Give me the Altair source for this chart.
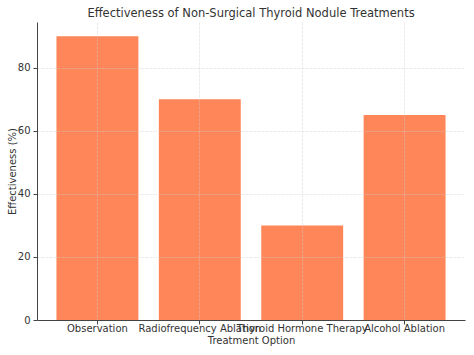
import altair as alt
import pandas as pd

treatments = ["Observation", "Radiofrequency Ablation", "Thyroid Hormone Therapy", "Alcohol Ablation"]
effectiveness = [90, 70, 30, 65]

df = pd.DataFrame({"Treatment Option": treatments, "Effectiveness (%)": effectiveness})

FONT = "DejaVu Sans"

chart = alt.Chart(df).mark_bar(color="#FF7F50", opacity=0.95).encode(
    x=alt.X(
        "Treatment Option:N",
        sort=treatments,
        scale=alt.Scale(paddingInner=0.2, paddingOuter=0.19),
        axis=alt.Axis(
            title="Treatment Option",
            labelAngle=0,
            labelOverlap=False,
            labelLimit=0,
            labelFontSize=10,
            labelFont=FONT,
            labelColor="#333333",
            labelPadding=-1,
            titleFont=FONT,
            titleFontSize=10,
            titleFontWeight="normal",
            titleColor="#333333",
            titlePadding=2,
            tickSize=4,
            tickColor="#444444",
            domainColor="#444444",
            domainWidth=1,
            grid=True,
            gridColor="#cccccc",
            gridOpacity=0.5,
            gridWidth=0.8,
            gridDash=[3, 1],
            zindex=1,
        ),
    ),
    y=alt.Y(
        "Effectiveness (%):Q",
        scale=alt.Scale(domain=[0, 94.5], nice=False),
        axis=alt.Axis(
            title="Effectiveness (%)",
            values=[0, 20, 40, 60, 80],
            labelFontSize=10,
            labelFont=FONT,
            labelColor="#333333",
            labelPadding=3,
            titleFont=FONT,
            titleFontSize=10,
            titleFontWeight="normal",
            titleColor="#333333",
            titlePadding=0,
            tickSize=4,
            tickColor="#444444",
            domainColor="#444444",
            domainWidth=1,
            grid=True,
            gridColor="#cccccc",
            gridOpacity=0.5,
            gridWidth=0.8,
            gridDash=[3, 1],
            zindex=1,
        ),
    ),
).properties(
    width=428,
    height=298,
    title=alt.TitleParams(
        "Effectiveness of Non-Surgical Thyroid Nodule Treatments",
        font=FONT,
        fontSize=11.5,
        fontWeight="normal",
        color="#333333",
        offset=3,
    ),
    autosize=alt.AutoSizeParams(type="none"),
    padding={"left": 37, "top": 22, "right": 9, "bottom": 35},
).configure_view(stroke=None)

chart.save("out.html", embed_options={"renderer": "svg", "actions": False})
